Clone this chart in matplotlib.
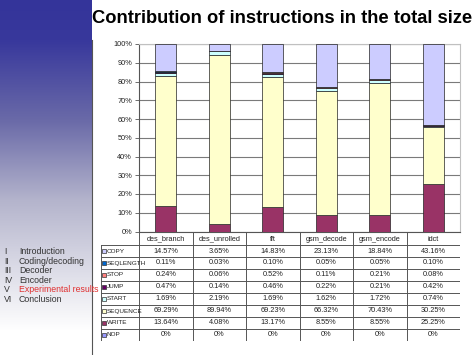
import numpy as np
import matplotlib.pyplot as plt
from matplotlib.colors import to_rgb

W, H = 474, 355

categories = ['des_branch', 'des_unrolled', 'fft', 'gsm_decode', 'gsm_encode', 'idct']
# table order (top to bottom)
series = ['COPY', 'SEQLENGTH', 'STOP', 'JUMP', 'START', 'SEQUENCE', 'WRITE', 'NOP']
copy_v = [14.57, 3.65, 14.83, 23.13, 18.84, 43.16]
seqlength_v = [0.11, 0.03, 0.10, 0.05, 0.05, 0.10]
stop_v = [0.24, 0.06, 0.52, 0.11, 0.21, 0.08]
jump_v = [0.47, 0.14, 0.46, 0.22, 0.21, 0.42]
start_v = [1.69, 2.19, 1.69, 1.62, 1.72, 0.74]
sequence_v = [69.29, 89.94, 69.23, 66.32, 70.43, 30.25]
write_v = [13.64, 4.08, 13.17, 8.55, 8.55, 25.25]
nop_v = [0, 0, 0, 0, 0, 0]
values = [copy_v, seqlength_v, stop_v, jump_v, start_v, sequence_v, write_v, nop_v]
colors = ['#CCCCFF', '#0066CC', '#FF8080', '#660066', '#CCFFFF', '#FFFFCC', '#993366', '#9999FF']

narrow = ['Liberation Sans Narrow', 'Liberation Sans', 'DejaVu Sans']


def px(x0, y0, x1, y1):
    return [x0 / W, 1 - y1 / H, (x1 - x0) / W, (y1 - y0) / H]


fig = plt.figure(figsize=(W / 100, H / 100), dpi=100)

# slide background: blue gradient strip on the left
bg = fig.add_axes([0, 0, 1, 1], zorder=-1)
bg.set_xlim(0, W)
bg.set_ylim(H, 0)
bg.axis('off')
stops_y = [0, 40, 120, 200, 330, 355]
stops_c = ['#34349a', '#38389c', '#6a6aa8', '#b4b4cc', '#ffffff', '#ffffff']
yy = np.arange(H)
grad = np.zeros((H, 1, 3))
for k in range(3):
    grad[:, 0, k] = np.interp(yy, stops_y, [to_rgb(c)[k] for c in stops_c])
bg.imshow(grad, extent=(0, 92, H, 0), aspect='auto')
bg.plot([92, 92], [40, H], color='#555555', lw=0.8)

fig.text(92 / W, 1 - 23 / H, 'Contribution of instructions in the total size',
         fontsize=13.2, fontweight='bold', family='Liberation Sans', color='black')

outline = [('I', 'Introduction'), ('II', 'Coding/decoding'), ('III', 'Decoder'),
           ('IV', 'Encoder'), ('V', 'Experimental results'), ('VI', 'Conclusion')]
for i, (num, txt) in enumerate(outline):
    y = 252 + i * 9.4
    col = '#e03030' if num == 'V' else '#333333'
    bg.text(4, y, num, fontsize=6.3, color='#333333', va='center', family='Liberation Sans')
    bg.text(19, y, txt, fontsize=6.3, color=col, va='center', family='Liberation Sans')

# stacked bar chart
ax = fig.add_axes(px(139, 44, 460, 231.5))
x = np.arange(len(categories))
bottom = np.zeros(len(categories))
for name, vals, c in reversed(list(zip(series, values, colors))):
    ax.bar(x, vals, 0.4, bottom=bottom, color=c, edgecolor='#222222', linewidth=0.5, zorder=3)
    bottom += np.array(vals)
ax.set_xlim(-0.5, len(categories) - 0.5)
ax.set_ylim(0, 100)
ax.set_yticks(np.arange(0, 101, 10))
ax.set_yticklabels([f'{t}%' for t in range(0, 101, 10)], fontsize=5.3, family=narrow, color='#222222')
ax.set_xticks([])
ax.grid(axis='y', color='#7a7a7a', lw=0.8, zorder=0)
ax.tick_params(axis='y', length=3, width=0.6, color='#555555', pad=2)
for s in ['top', 'right']:
    ax.spines[s].set_color('#c0c0c0')
    ax.spines[s].set_linewidth(0.8)
for s in ['left', 'bottom']:
    ax.spines[s].set_color('#555555')
    ax.spines[s].set_linewidth(0.8)

# data table under the chart
tx0 = -0.5 - 38 / 53.5
tb = fig.add_axes(px(101, 231.5, 460, 341))
tb.set_xlim(tx0, len(categories) - 0.5)
tb.set_ylim(len(series), -1.125)
tb.axis('off')
lc = '#555555'
for r in range(len(series) + 1):
    tb.plot([tx0, len(categories) - 0.5], [r, r], color=lc, lw=0.7)
tb.plot([tx0, tx0], [0, len(series)], color=lc, lw=0.7)
for k in range(len(categories) + 1):
    tb.plot([k - 0.5, k - 0.5], [-1.125, len(series)], color=lc, lw=0.7)
for k, cat in enumerate(categories):
    tb.text(k, -0.5, cat, ha='center', va='center', fontsize=5.3, family=narrow, color='#222222')
for r, (name, vals, c) in enumerate(zip(series, values, colors)):
    tb.plot([tx0 + 0.055], [r + 0.5], 's', ms=3.0, mfc=c, mec='#333333', mew=0.5)
    tb.text(tx0 + 0.11, r + 0.5, name, va='center', fontsize=4.6, family=narrow, color='#222222')
    for k, v in enumerate(vals):
        lab = '0%' if v == 0 else f'{v:.2f}%'
        tb.text(k, r + 0.5, lab, ha='center', va='center', fontsize=5.3, family=narrow, color='#222222')

fig.savefig('out.png', dpi=100)
